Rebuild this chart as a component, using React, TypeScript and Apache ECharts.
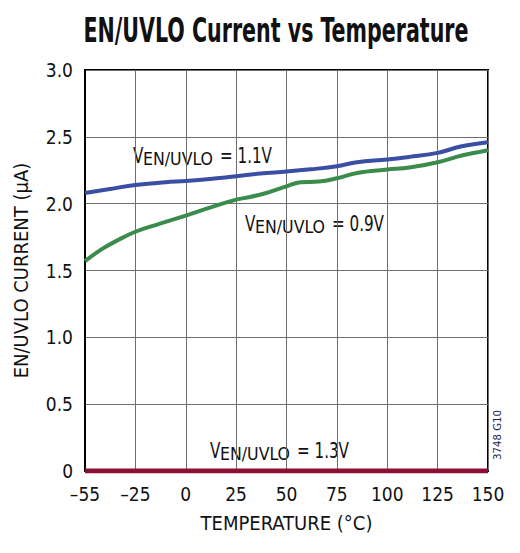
import { useEffect, useRef } from 'react';
import * as echarts from 'echarts';

// tick labels along the temperature axis (equally spaced on the page)
const xLabels = ['–55', '–25', '0', '25', '50', '75', '100', '125', '150'];
const xTicks = [-55, -25, 0, 25, 50, 75, 100, 125, 150];

// V(EN/UVLO) = 1.1V
const temp11 = [-55, -40, -25, -10, 0, 12, 25, 37, 50, 62, 75, 85, 100, 111, 125, 137, 150];
const current11 = [2.08, 2.11, 2.14, 2.16, 2.17, 2.185, 2.205, 2.225, 2.24, 2.257, 2.28, 2.31, 2.33, 2.35, 2.38, 2.43, 2.46];

// V(EN/UVLO) = 0.9V
const temp09 = [-55, -45, -35, -25, -15, 0, 12, 25, 32, 40, 50, 57, 66, 75, 85, 100, 111, 125, 137, 150];
const current09 = [1.57, 1.66, 1.73, 1.79, 1.84, 1.91, 1.97, 2.03, 2.05, 2.08, 2.13, 2.16, 2.165, 2.19, 2.23, 2.255, 2.27, 2.31, 2.36, 2.4];

// V(EN/UVLO) = 1.3V
const temp13 = [-55, 150];
const current13 = [0, 0];

const FONT = '"DejaVu Sans Condensed", "Liberation Sans", sans-serif';

// piecewise map: each labelled tick sits one grid division apart
function toAxis(t: number): number {
    for (let i = 0; i < xTicks.length - 1; i++) {
        if (t <= xTicks[i + 1]) {
            return i + (t - xTicks[i]) / (xTicks[i + 1] - xTicks[i]);
        }
    }
    return xTicks.length - 1;
}

function pairs(t: number[], v: number[]) {
    return t.map((x, i) => [toAxis(x), v[i]]);
}

// squeeze a text so it spans the same width as in the reference
const measureCtx = document.createElement('canvas').getContext('2d');
function fitScale(text: string, font: string, target: number): number {
    if (!measureCtx) return 1;
    measureCtx.font = font;
    const w = measureCtx.measureText(text).width;
    return w > 0 ? target / w : 1;
}

const MAIN = `21px ${FONT}`;
const SUB = `17px ${FONT}`;

// V with EN/UVLO subscript, on a white patch that hides the grid
function vLabel(x: number, baseline: number, value: string) {
    const sMain = fitScale(`= ${value}`, MAIN, 52);
    const sSub = fitScale('EN/UVLO', SUB, 70);
    return {
        type: 'group',
        x,
        y: baseline,
        z: 100,
        children: [
            {
                type: 'rect',
                shape: { x: -4, y: -19, width: 148, height: 26 },
                style: { fill: '#fff' },
            },
            {
                type: 'text',
                x: 0,
                y: 4,
                scaleX: sMain,
                style: { text: 'V', font: MAIN, fill: '#111', verticalAlign: 'bottom' },
            },
            {
                type: 'text',
                x: 10,
                y: 5.5,
                scaleX: sSub,
                style: { text: 'EN/UVLO', font: SUB, fill: '#111', verticalAlign: 'bottom' },
            },
            {
                type: 'text',
                x: 87,
                y: 4,
                scaleX: sMain,
                style: { text: `= ${value}`, font: MAIN, fill: '#111', verticalAlign: 'bottom' },
            },
        ],
    };
}

export default function App() {
    const chartRef = useRef<HTMLDivElement>(null);

    useEffect(() => {
        if (!chartRef.current) return;
        const chart = echarts.init(chartRef.current, undefined, { renderer: 'svg' });

        const titleText = 'EN/UVLO Current vs Temperature';
        const titleFont = `bold 33px ${FONT}`;
        const noteFont = `11px ${FONT}`;

        const option = {
            animation: false,
            backgroundColor: '#fff',
            grid: {
                left: 85,
                right: 32,
                top: 70,
                bottom: 82,
                show: true,
                borderColor: '#000',
                borderWidth: 2,
            },
            xAxis: {
                type: 'value',
                min: 0,
                max: 8,
                interval: 1,
                name: 'TEMPERATURE (°C)',
                nameLocation: 'middle',
                nameGap: 42,
                nameTextStyle: { fontFamily: FONT, fontSize: 20, color: '#111' },
                axisLine: { lineStyle: { color: '#000', width: 2 } },
                axisTick: { show: false },
                axisLabel: {
                    fontFamily: FONT,
                    fontSize: 19,
                    color: '#111',
                    margin: 13,
                    formatter: (v: number) => xLabels[Math.round(v)] ?? '',
                },
                splitLine: { lineStyle: { color: '#6e6e6e', width: 1 } },
            },
            yAxis: {
                type: 'value',
                min: 0,
                max: 3,
                interval: 0.5,
                name: 'EN/UVLO CURRENT (µA)',
                nameLocation: 'middle',
                nameGap: 54,
                nameTextStyle: { fontFamily: FONT, fontSize: 20, color: '#111' },
                axisLine: { lineStyle: { color: '#000', width: 2 } },
                axisTick: { show: false },
                axisLabel: {
                    fontFamily: FONT,
                    fontSize: 19,
                    color: '#111',
                    margin: 12,
                    formatter: (v: number) => (v === 0 ? '0' : v.toFixed(1)),
                },
                splitLine: { lineStyle: { color: '#6e6e6e', width: 1 } },
            },
            series: [
                {
                    name: '1.1V',
                    type: 'line',
                    data: pairs(temp11, current11),
                    smooth: 0.4,
                    symbol: 'none',
                    lineStyle: { color: '#3a4fa3', width: 4 },
                },
                {
                    name: '0.9V',
                    type: 'line',
                    data: pairs(temp09, current09),
                    smooth: 0.4,
                    symbol: 'none',
                    lineStyle: { color: '#3a8b4c', width: 4 },
                },
                {
                    name: '1.3V',
                    type: 'line',
                    data: pairs(temp13, current13),
                    symbol: 'none',
                    lineStyle: { color: '#8c0f33', width: 5 },
                    z: 5,
                },
            ],
            graphic: [
                {
                    type: 'text',
                    x: 276,
                    y: 31,
                    scaleX: fitScale(titleText, titleFont, 385),
                    style: {
                        text: titleText,
                        font: titleFont,
                        fill: '#111',
                        align: 'center',
                        verticalAlign: 'middle',
                    },
                },
                vLabel(133, 162, '1.1V'),
                vLabel(245, 230, '0.9V'),
                vLabel(210, 457, '1.3V'),
                {
                    type: 'text',
                    x: 498,
                    y: 435,
                    rotation: Math.PI / 2,
                    scaleX: fitScale('3748 G10', noteFont, 50),
                    style: {
                        text: '3748 G10',
                        font: noteFont,
                        fill: '#1c2a55',
                        align: 'center',
                        verticalAlign: 'middle',
                    },
                },
            ],
        };

        chart.setOption(option);
        return () => {
            chart.dispose();
        };
    }, []);

    return <div ref={chartRef} style={{ width: 520, height: 553, margin: -8 }} />;
}
